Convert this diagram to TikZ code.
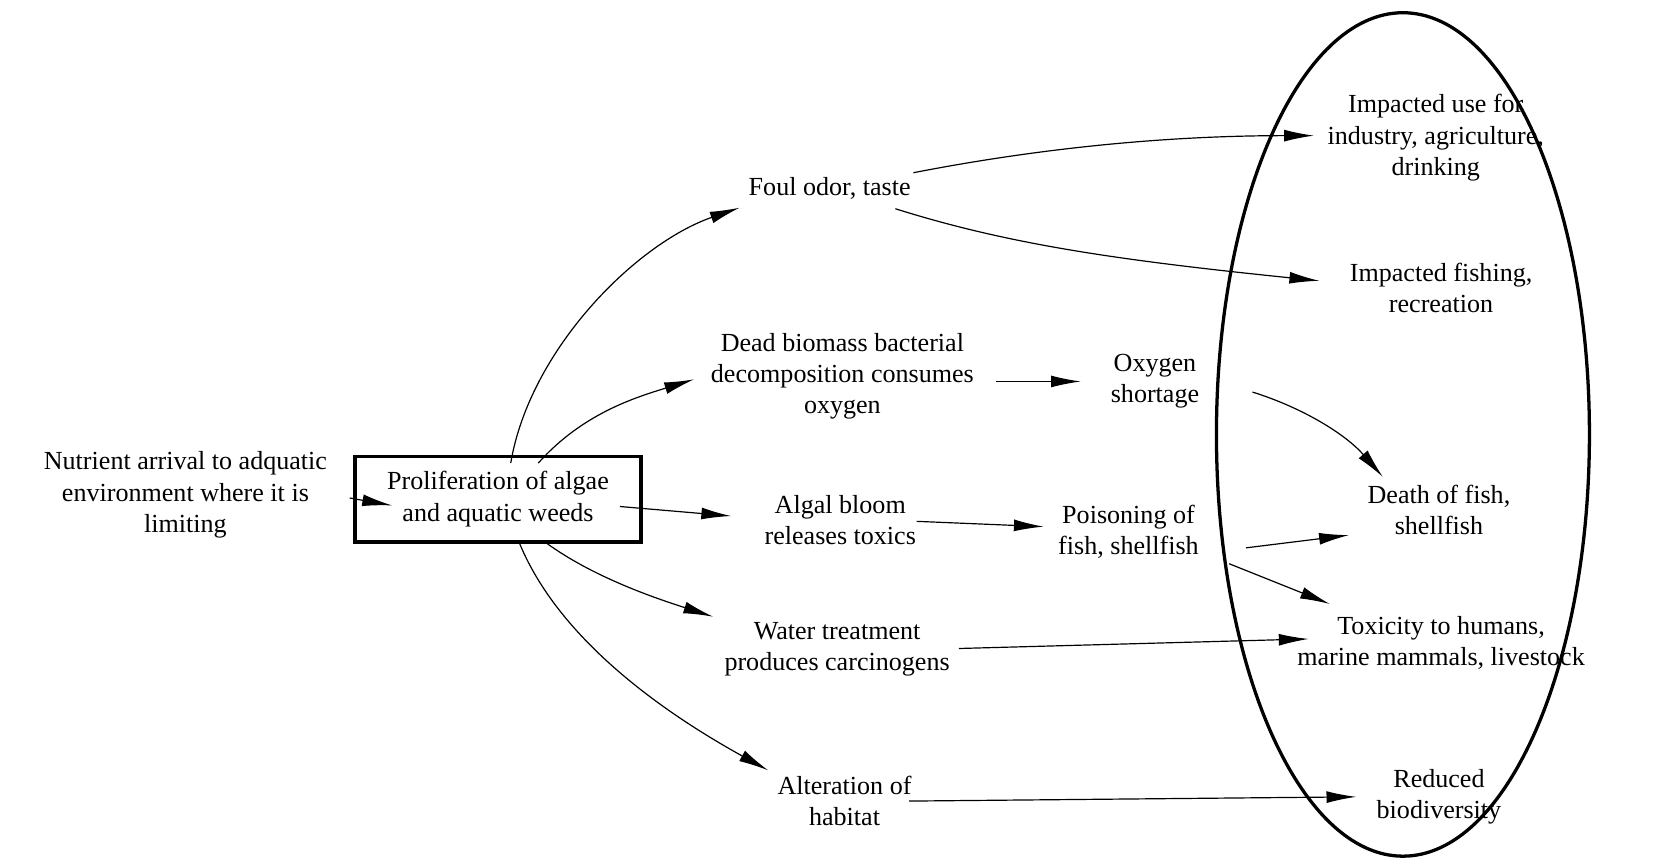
\documentclass[tikz,border=0pt]{standalone}
\usepackage{fontspec}
\setmainfont{Liberation Serif}
\usetikzlibrary{arrows.meta}
\begin{document}
\begin{tikzpicture}[x=0.025cm,y=-0.025cm,
  lbl/.style={align=center,font=\fontsize{17.5}{21}\selectfont},
  arr/.style={-{Latex[length=20pt,width=8pt]},line width=0.8pt}]
\useasboundingbox (0,0) rectangle (1560,817);
\draw[line width=2.2pt] (1324,410) ellipse [x radius=176, y radius=398];
\node[lbl] (nut) at (175,467) {Nutrient arrival to adquatic\\environment where it is\\limiting};
\node[lbl,draw,line width=2.2pt,minimum width=270*0.025cm,minimum height=81*0.025cm] (pro) at (470,471) {Proliferation of algae\\and aquatic weeds};
\node[lbl] (foul) at (783,178) {Foul odor, taste};
\node[lbl] (dead) at (795,355) {Dead biomass bacterial\\decomposition consumes\\oxygen};
\node[lbl] (oxy) at (1090,360) {Oxygen\\shortage};
\node[lbl] (alg) at (793,491) {Algal bloom\\releases toxics};
\node[lbl] (poi) at (1065,502) {Poisoning of\\fish, shellfish};
\node[lbl] (wat) at (790,613) {Water treatment\\produces carcinogens};
\node[lbl] (alt) at (797,756) {Alteration of\\habitat};
\node[lbl] (i1) at (1355,130) {Impacted use for\\industry, agriculture,\\drinking};
\node[lbl] (i2) at (1360,272) {Impacted fishing,\\recreation};
\node[lbl] (dth) at (1358,481) {Death of fish,\\shellfish};
\node[lbl] (tox) at (1360,607) {Toxicity to humans,\\marine mammals, livestock};
\node[lbl] (red) at (1358,752) {Reduced\\biodiversity};
\coordinate (a1) at (330,470); \coordinate (a2) at (370,477);
\draw[arr] (a1) -- (a2);
\coordinate (p1) at (482,437); \coordinate (f1) at (698,196);
\draw[arr] (p1) .. controls (500,330) and (600,230) .. (f1);
\coordinate (p2) at (508,437); \coordinate (d1) at (655,358);
\draw[arr] (p2) .. controls (550,390) and (600,375) .. (d1);
\coordinate (p3) at (585,478); \coordinate (g1) at (690,487);
\draw[arr] (p3) -- (g1);
\coordinate (p4) at (515,512); \coordinate (w1) at (673,582);
\draw[arr] (p4) .. controls (560,545) and (620,565) .. (w1);
\coordinate (p5) at (490,512); \coordinate (h1) at (725,727);
\draw[arr] (p5) .. controls (530,610) and (640,680) .. (h1);
\coordinate (f2) at (862,163); \coordinate (i1a) at (1240,128);
\draw[arr] (f2) .. controls (980,140) and (1100,128) .. (i1a);
\coordinate (f3) at (845,197); \coordinate (i2a) at (1245,265);
\draw[arr] (f3) .. controls (950,230) and (1050,245) .. (i2a);
\coordinate (d2) at (940,360); \coordinate (o1) at (1020,360);
\draw[arr] (d2) -- (o1);
\coordinate (g2) at (865,492); \coordinate (q1) at (985,497);
\draw[arr] (g2) -- (q1);
\coordinate (o2) at (1182,370); \coordinate (dt1) at (1305,450);
\draw[arr] (o2) .. controls (1230,385) and (1270,410) .. (dt1);
\coordinate (q2) at (1176,517); \coordinate (dt2) at (1273,505);
\draw[arr] (q2) -- (dt2);
\coordinate (q3) at (1160,532); \coordinate (t1) at (1255,570);
\draw[arr] (q3) -- (t1);
\coordinate (w2) at (905,612); \coordinate (t2) at (1235,603);
\draw[arr] (w2) -- (t2);
\coordinate (h2) at (858,756); \coordinate (r1) at (1280,752);
\draw[arr] (h2) -- (r1);
\end{tikzpicture}
\end{document}
